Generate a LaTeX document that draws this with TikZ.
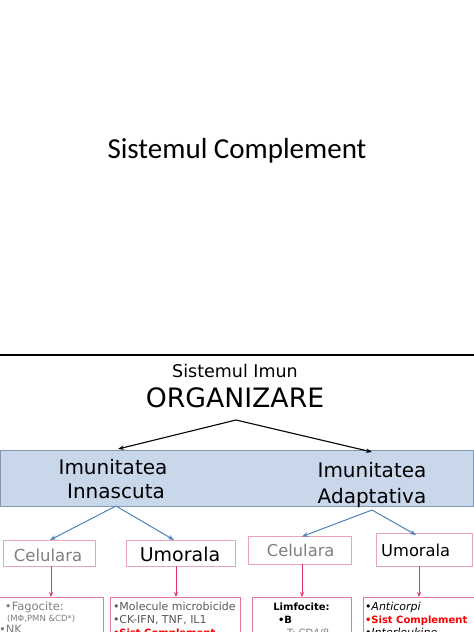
\documentclass[tikz,border=0pt]{standalone}
\usepackage{fontspec}
\setmainfont{DejaVu Sans}
\newfontfamily\titlefont{Carlito}
\usetikzlibrary{arrows.meta}
\definecolor{bandfill}{HTML}{C9D7EA}
\definecolor{banddraw}{HTML}{8497B0}
\definecolor{bluearr}{HTML}{4F81BD}
\definecolor{pinkbox}{HTML}{E9A3BB}
\definecolor{pinkbox2}{HTML}{E27A9E}
\definecolor{pinkarr}{HTML}{E5356F}
\definecolor{txtgray}{HTML}{7F7F7F}
\definecolor{txtdgray}{HTML}{595959}
\definecolor{txtred}{HTML}{FF0000}
\newcommand{\fs}[1]{\fontsize{#1}{#1}\selectfont}
\begin{document}
\begin{tikzpicture}[x=1pt,y=-1pt,
  every node/.style={inner sep=0pt,outer sep=0pt},
  lbl/.style={anchor=base},
  lblw/.style={anchor=base west},
  box/.style={draw=pinkbox,line width=0.9pt},
  lbox/.style={draw=pinkbox2,line width=0.9pt},
  blk/.style={line width=1.1pt,-{Stealth[length=6pt,width=4.5pt]}},
  blu/.style={draw=bluearr,line width=1pt,-{Stealth[length=6pt,width=4.5pt]}},
  pnk/.style={draw=pinkarr,line width=1pt,-{Stealth[length=5pt,width=4pt]}},
]
\useasboundingbox (0,0) rectangle (474,632);
\clip (0,0) rectangle (474,632);
\fill[white] (0,0) rectangle (474,632);
% slide 1
\node[lbl,font=\titlefont\fs{29}] (title) at (237,158) {Sistemul Complement};
\coordinate (sepl) at (0,355);
\coordinate (sepr) at (474,355);
\draw[line width=1.3pt] (sepl) -- (sepr);
% slide 2
\node[lbl,font=\fs{17.5}] (imun) at (235,377) {Sistemul Imun};
\node[lbl,font=\fs{26.7}] (org) at (235,407) {ORGANIZARE};
\node[draw=banddraw,fill=bandfill,line width=0.9pt,minimum width=473,minimum height=56] (band) at (237,478) {};
\coordinate (top) at (236,420);
\coordinate (tinn) at (118,449);
\coordinate (tada) at (372,452);
\draw[blk] (top) -- (tinn);
\draw[blk] (top) -- (tada);
\node[lbl,font=\fs{20}] (i1) at (113,474) {Imunitatea};
\node[lbl,font=\fs{20}] (i2) at (116,498) {Innascuta};
\node[lbl,font=\fs{20}] (a1) at (372,477) {Imunitatea};
\node[lbl,font=\fs{20}] (a2) at (372,503) {Adaptativa};
% second-level boxes
\node[box,minimum width=92,minimum height=26] (c1) at (49,553) {};
\node[box,minimum width=109,minimum height=26] (u1) at (180.5,553) {};
\node[box,minimum width=103,minimum height=28] (c2) at (299.5,550) {};
\node[box,minimum width=96,minimum height=33] (u2) at (424,549.5) {};
\node[lbl,font=\fs{16.5},text=txtgray] (c1t) at (48,561.7) {Celulara};
\node[lbl,font=\fs{19}] (u1t) at (180,561.7) {Umorala};
\node[lbl,font=\fs{16.3},text=txtgray] (c2t) at (300.7,556.7) {Celulara};
\node[lbl,font=\fs{16.3}] (u2t) at (415.7,556.7) {Umorala};
% blue arrows
\coordinate (binn) at (116,506);
\coordinate (bada) at (372,510);
\coordinate (ec1) at (50,540);
\coordinate (eu1) at (174,540);
\coordinate (ec2) at (302,536.5);
\coordinate (eu2) at (416,535);
\draw[blu] (binn) -- (ec1);
\draw[blu] (binn) -- (eu1);
\draw[blu] (bada) -- (ec2);
\draw[blu] (bada) -- (eu2);
% lower boxes
\node[lbox,minimum width=106,minimum height=70] (lb1) at (50,632) {};
\node[lbox,minimum width=130,minimum height=70] (lb2) at (175,632) {};
\node[lbox,minimum width=99,minimum height=70] (lb3) at (301.5,632) {};
\node[lbox,minimum width=120,minimum height=70] (lb4) at (423,632) {};
% pink arrows
\coordinate (x1) at (51,0);
\coordinate (x2) at (176,0);
\coordinate (x3) at (302,0);
\coordinate (x4) at (419,0);
\draw[pnk] (c1.south -| x1) -- (lb1.north -| x1);
\draw[pnk] (u1.south -| x2) -- (lb2.north -| x2);
\draw[pnk] (c2.south -| x3) -- (lb3.north -| x3);
\draw[pnk] (u2.south -| x4) -- (lb4.north -| x4);
% lower texts
\node[lblw,font=\fs{11.5},text=txtgray] (f1) at (5,610) {•Fagocite:};
\node[lblw,font=\fs{8.5},text=txtgray] (f2) at (7,621) {(MΦ,PMN \&CD*)};
\node[lblw,font=\fs{11.5},text=txtgray] (f3) at (-1,633) {•NK};
\node[lblw,font=\fs{11},text=txtdgray] (m1) at (113,610) {•Molecule microbicide};
\node[lblw,font=\fs{11},text=txtdgray] (m2) at (113,623) {•CK-IFN, TNF, IL1};
\node[lblw,font=\bfseries\fs{10},text=txtred] (m3) at (113,636) {•Sist Complement};
\node[lbl,font=\bfseries\fs{10}] (l1) at (301.5,610) {Limfocite:};
\node[lblw,font=\bfseries\fs{10}] (l2) at (278,623) {•B};
\node[lblw,font=\fs{10},text=txtgray] (l3) at (287,636) {T: CD4/8};
\node[lblw,font=\itshape\fs{11}] (r1) at (365,610) {•Anticorpi};
\node[lblw,font=\bfseries\fs{10},text=txtred] (r2) at (365,623.5) {•Sist Complement};
\node[lblw,font=\itshape\fs{11}] (r3) at (365,636) {•Interleukine};
\end{tikzpicture}
\end{document}
